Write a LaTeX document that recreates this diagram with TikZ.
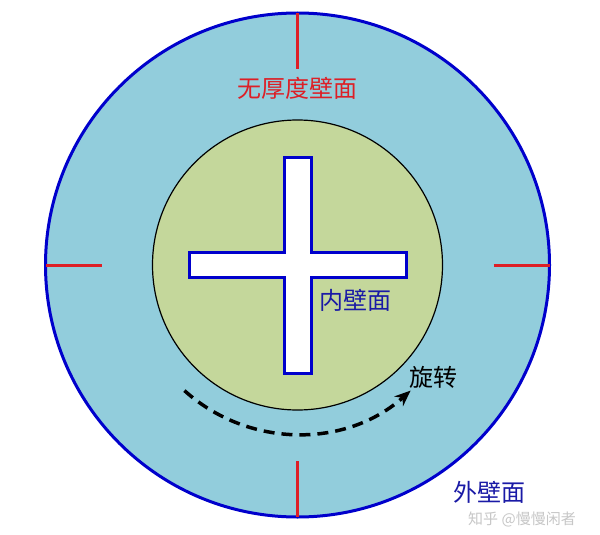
\documentclass[tikz,border=0pt]{standalone}
\usepackage{fontspec}
\setmainfont{Noto Sans CJK SC}
\usetikzlibrary{arrows.meta}

\definecolor{ringblue}{HTML}{92CDDC}
\definecolor{corefill}{HTML}{C4D79B}
\definecolor{wallblue}{HTML}{0000CC}
\definecolor{wallred}{HTML}{DD1F26}
\definecolor{textblue}{HTML}{1A1AA6}

\begin{document}
\begin{tikzpicture}[x=1pt,y=1pt,
	redtick/.style={draw=wallred,line width=3pt},
	walltext/.style={inner sep=0pt,font=\fontsize{24}{27}\selectfont}]
	\useasboundingbox [fill=white] (0,0) rectangle (600,-535);
	\coordinate (c) at (297.5,-265);

	\draw [fill=ringblue,draw=wallblue,line width=3pt] (c) circle (252);
	\draw [fill=corefill,draw=black,line width=1.2pt] (c) circle (145);
	\draw [fill=white,draw=wallblue,line width=3pt] (284,-157) -- (311,-157) -- (311,-252) -- (406,-252) -- (406,-277) -- (311,-277) -- (311,-373) -- (284,-373) -- (284,-277) -- (189,-277) -- (189,-252) -- (284,-252) -- cycle;

	\foreach \a in {0,90,180,270}
		\draw [redtick] (c) ++(\a:196) -- ++(\a:56);

	\node [walltext,text=wallred] (wuhoudu) at (297.5,-88) {无厚度壁面};
	\node [walltext,text=textblue] (neibi) at (355,-300) {内壁面};
	\node [walltext,text=black] (xuanzhuan) at (433,-377) {旋转};
	\node [walltext,text=textblue] (waibi) at (489,-492) {外壁面};
	\node [inner sep=0pt,text=black!22,font=\fontsize{15}{18}\selectfont] (shuiyin) at (522,-519) {知乎 @慢慢闲者};

	\draw [line width=3.5pt,dash pattern=on 11pt off 7pt,-{Stealth[length=16pt,width=13pt]}] (c) ++(228:169) arc (228:312:169);
\end{tikzpicture}
\end{document}
